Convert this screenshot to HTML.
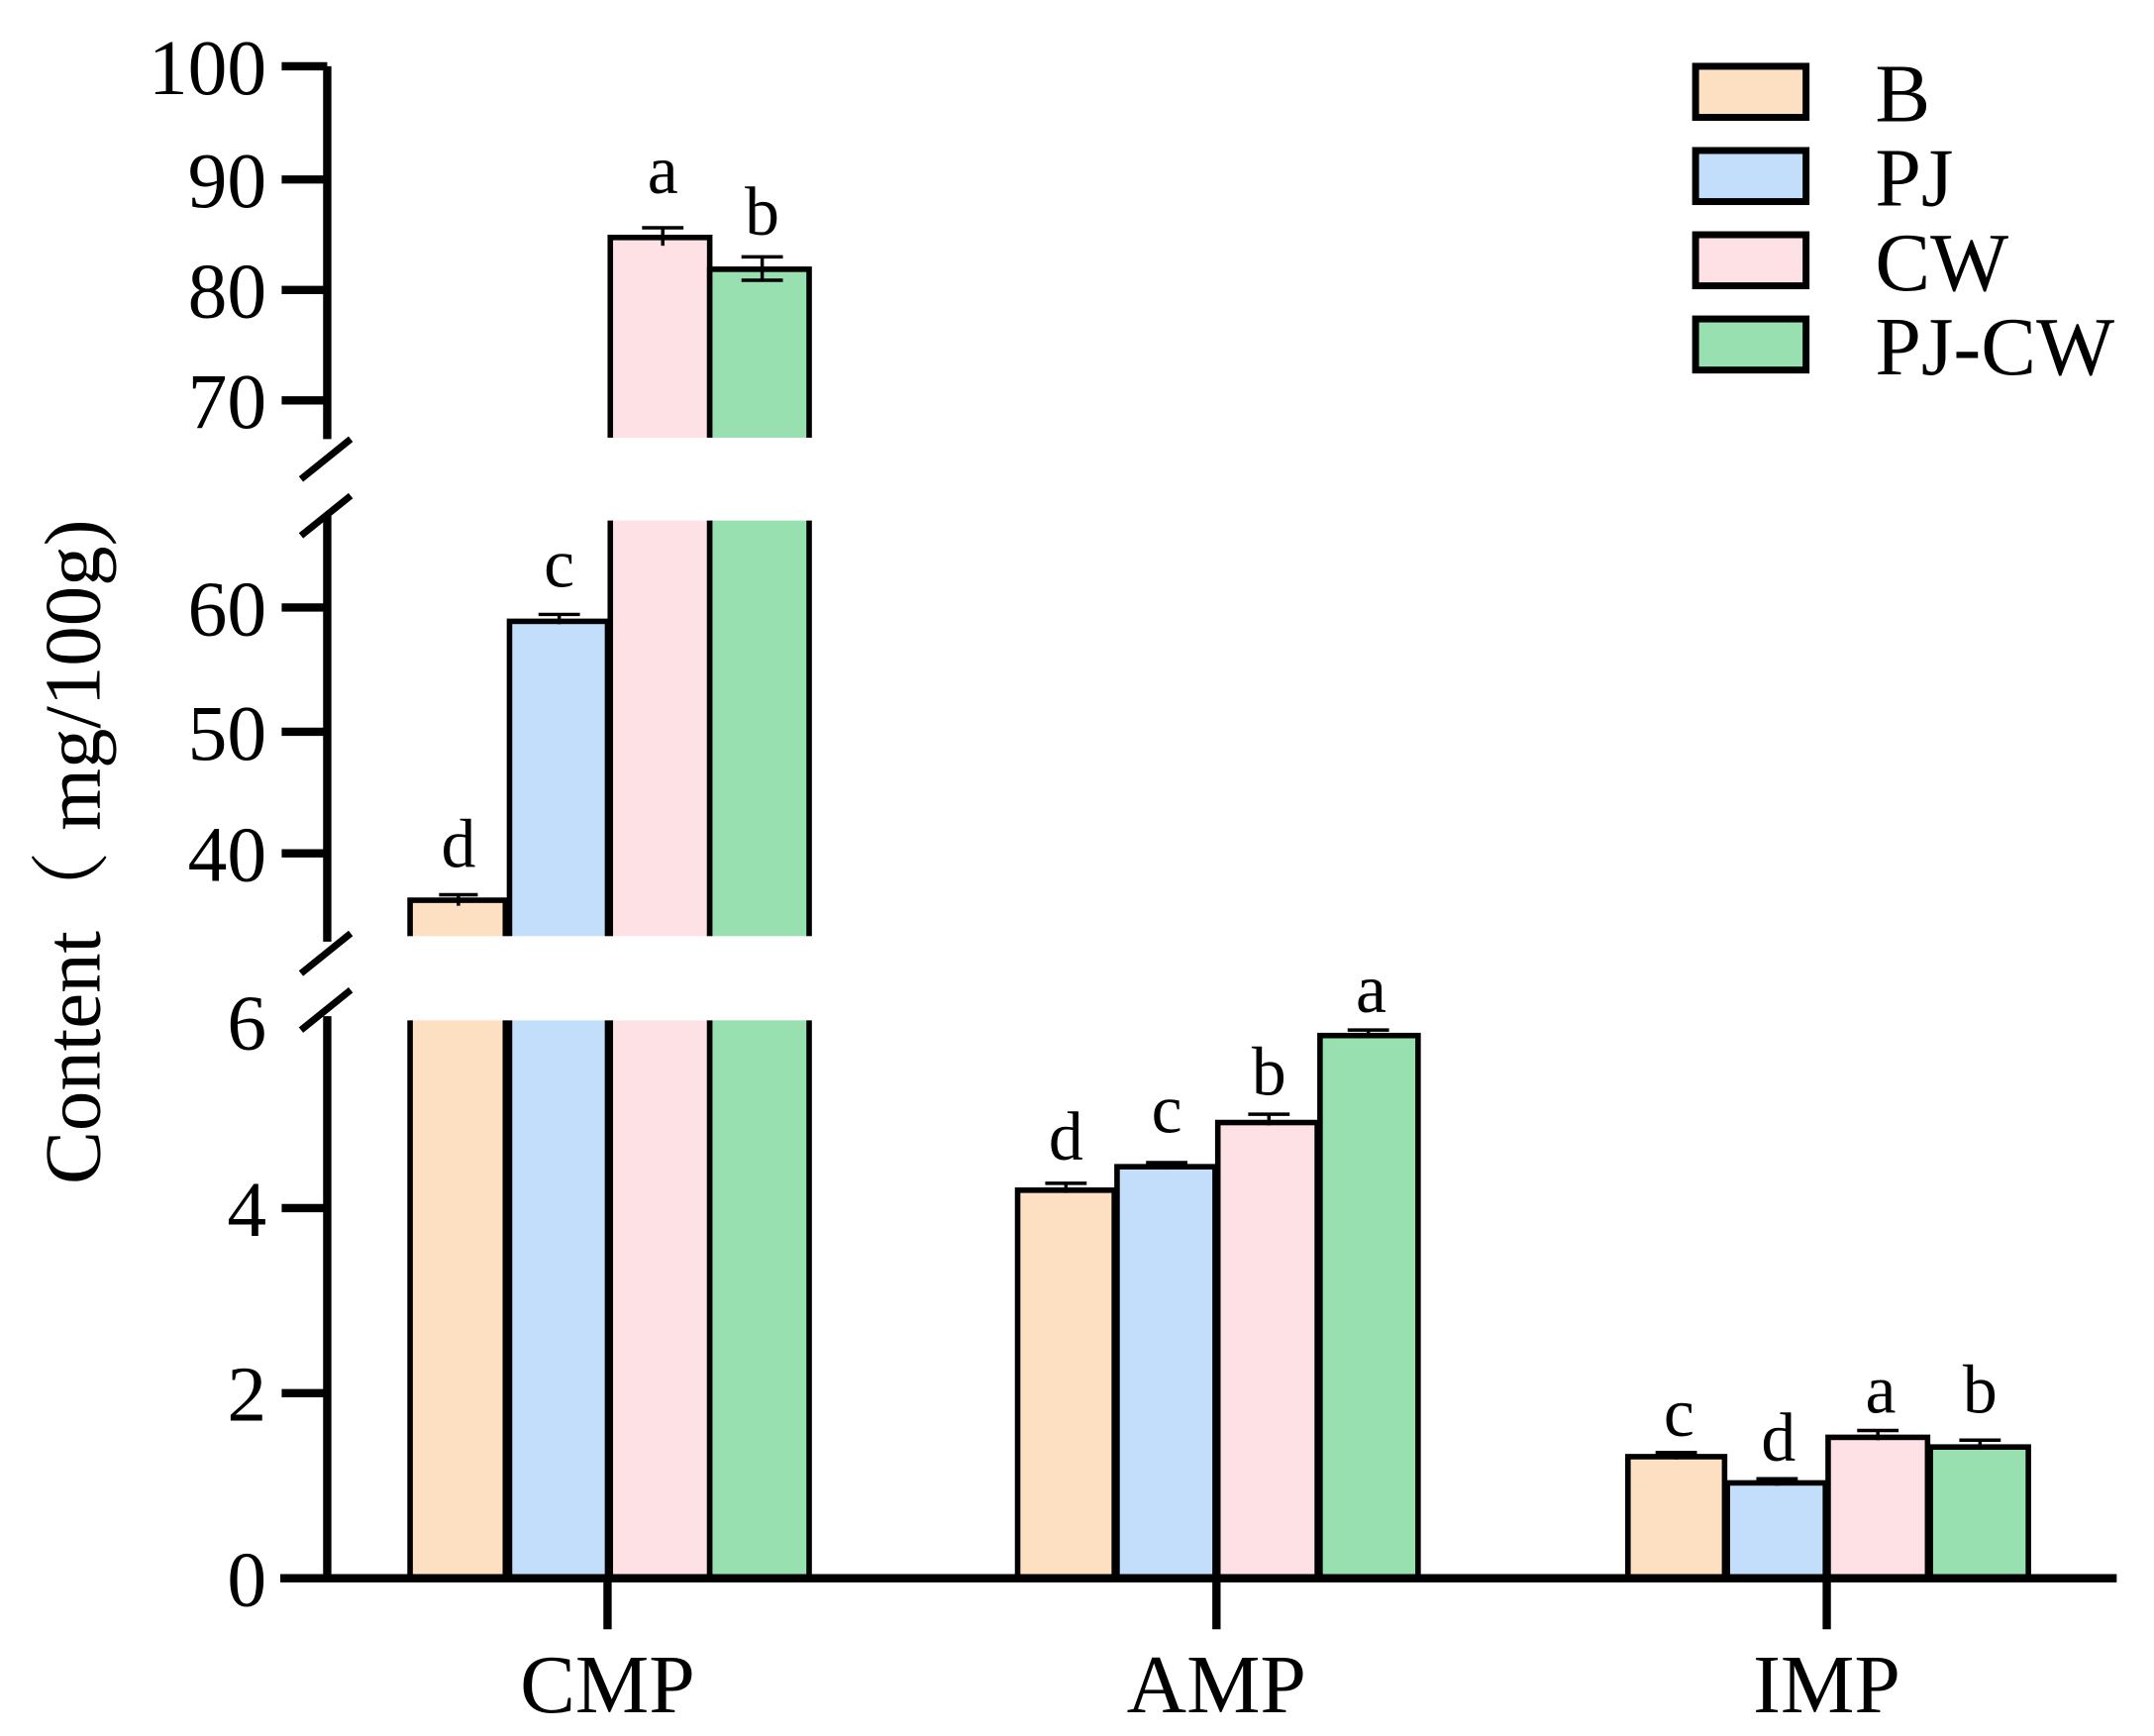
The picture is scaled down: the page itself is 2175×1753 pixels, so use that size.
<!DOCTYPE html>
<html><head><meta charset="utf-8"><style>
html,body{margin:0;padding:0;background:#fff;}
svg{display:block;}
text{font-family:"Liberation Serif",serif;fill:#000;}
</style></head><body>
<svg width="2175" height="1753" viewBox="0 0 1560 1257.3" preserveAspectRatio="none" xmlns="http://www.w3.org/2000/svg">
<g stroke="#000" stroke-width="4">
 <rect x="297" y="652" width="69" height="491" fill="#fde0c2"/>
 <rect x="369" y="450" width="71" height="693" fill="#c3defa"/>
 <rect x="442" y="172" width="72" height="971" fill="#fde1e4"/>
 <rect x="514" y="195" width="72" height="948" fill="#98e0b0"/>
 <rect x="737" y="862" width="70" height="281" fill="#fde0c2"/>
 <rect x="809" y="845" width="71" height="298" fill="#c3defa"/>
 <rect x="882" y="813" width="72" height="330" fill="#fde1e4"/>
 <rect x="956" y="750" width="71" height="393" fill="#98e0b0"/>
 <rect x="1179" y="1055" width="70" height="88" fill="#fde0c2"/>
 <rect x="1251" y="1074" width="71" height="69" fill="#c3defa"/>
 <rect x="1324" y="1041" width="72" height="102" fill="#fde1e4"/>
 <rect x="1398" y="1048" width="71" height="95" fill="#98e0b0"/>
</g>
<rect x="280" y="317" width="320" height="60" fill="#fff"/>
<rect x="280" y="678" width="320" height="61" fill="#fff"/>
<g stroke="#000" stroke-width="2.5" fill="none">
 <path d="M318 648H346M332 648V656"/>
 <path d="M390 445H420M405 445V452"/>
 <path d="M465 165H495M480 165V178"/>
 <path d="M537 186H567M552 186V203M537 203H567"/>
 <path d="M757 857H787M772 857V864"/>
 <path d="M830 842H860M845 842V847"/>
 <path d="M904 807H934M919 807V815"/>
 <path d="M976 746H1006M991 746V752"/>
 <path d="M1199 1052H1229M1214 1052V1057"/>
 <path d="M1272 1071H1302M1287 1071V1076"/>
 <path d="M1345 1036H1375M1360 1036V1043"/>
 <path d="M1419 1043H1449M1434 1043V1050"/>
</g>
<g font-size="50" text-anchor="middle">
 <text x="332" y="628">d</text>
 <text x="405" y="425">c</text>
 <text x="480" y="140">a</text>
 <text x="552" y="170">b</text>
 <text x="772" y="840">d</text>
 <text x="845" y="820">c</text>
 <text x="919" y="793">b</text>
 <text x="993" y="733">a</text>
 <text x="1216" y="1040">c</text>
 <text x="1288" y="1058">d</text>
 <text x="1362" y="1023">a</text>
 <text x="1434" y="1023">b</text>
</g>
<g stroke="#000" stroke-width="6" fill="none">
 <path d="M237 48V318"/>
 <path d="M237 372V682"/>
 <path d="M237 736V1143"/>
 <path d="M204 48H237M204 130H237M204 210H237M204 290H237"/>
 <path d="M204 440H237M204 530H237M204 618H237"/>
 <path d="M204 875H237M204 1009H237"/>
 <path d="M203 1143H1533"/>
 <path d="M440 1143V1180M881 1143V1180M1323 1143V1180"/>
</g>
<g stroke="#000" stroke-width="5">
 <line x1="218" y1="347" x2="254" y2="318"/>
 <line x1="218" y1="388" x2="254" y2="359"/>
 <line x1="218" y1="705" x2="254" y2="676"/>
 <line x1="218" y1="746" x2="254" y2="717"/>
</g>
<g font-size="57" text-anchor="end">
 <text x="193" y="68">100</text>
 <text x="193" y="150">90</text>
 <text x="193" y="230">80</text>
 <text x="193" y="310">70</text>
 <text x="193" y="460">60</text>
 <text x="193" y="550">50</text>
 <text x="193" y="638">40</text>
 <text x="193" y="760">6</text>
 <text x="193" y="895">4</text>
 <text x="193" y="1029">2</text>
 <text x="193" y="1163">0</text>
</g>
<text font-size="58" transform="translate(72,617) rotate(-90)" text-anchor="middle" style="font-family:'Liberation Serif','Noto Serif CJK SC',serif">Content（ mg/100g)</text>
<g font-size="60" text-anchor="middle">
 <text x="440" y="1240">CMP</text>
 <text x="881" y="1240">AMP</text>
 <text x="1323" y="1240">IMP</text>
</g>
<g stroke="#000" stroke-width="5">
 <rect x="1228" y="48" width="80" height="37" fill="#fde0c2"/>
 <rect x="1228" y="109" width="80" height="37" fill="#c3defa"/>
 <rect x="1228" y="170" width="80" height="37" fill="#fde1e4"/>
 <rect x="1228" y="231" width="80" height="37" fill="#98e0b0"/>
</g>
<g font-size="60">
 <text x="1358" y="88">B</text>
 <text x="1358" y="149">PJ</text>
 <text x="1358" y="210">CW</text>
 <text x="1358" y="271">PJ-CW</text>
</g>
</svg>
</body></html>
